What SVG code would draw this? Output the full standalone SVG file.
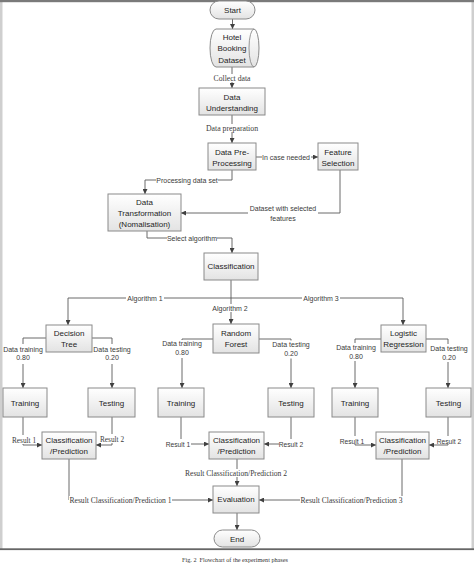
<svg xmlns="http://www.w3.org/2000/svg" width="474" height="563" viewBox="0 0 474 563">
<defs>
<linearGradient id="g" x1="0" y1="0" x2="0" y2="1"><stop offset="0" stop-color="#ffffff"/><stop offset="1" stop-color="#e3e3e3"/></linearGradient>
<marker id="a" viewBox="0 0 6 6" refX="6" refY="3" markerWidth="5" markerHeight="5" markerUnits="userSpaceOnUse" orient="auto"><path d="M0,0 L6,3 L0,6 Z" fill="#404040"/></marker>
</defs>
<style>
.b{fill:url(#g);stroke:#8a8a8a;stroke-width:1}
.t{font-family:"Liberation Sans",Arial,sans-serif;font-size:8px;fill:#1e1e1e;text-anchor:middle}
.l{font-family:"Liberation Sans",Arial,sans-serif;font-size:7px;fill:#3a3a3a;text-anchor:middle}
.s{font-family:"Liberation Serif","Times New Roman",serif;font-size:7.6px;fill:#3a3a3a;text-anchor:middle}
.c{fill:none;stroke:#5a5a5a;stroke-width:0.9}
.ca{fill:none;stroke:#5a5a5a;stroke-width:0.9;marker-end:url(#a)}
.bg{fill:#ffffff}
</style>
<rect x="0" y="0" width="474" height="563" fill="#ffffff"/>
<g id="frame">
<rect x="0" y="0" width="2.5" height="549" fill="#cfcfcf"/>
<rect x="471.5" y="0" width="2.5" height="549" fill="#cfcfcf"/>
<rect x="0" y="0" width="474" height="2.2" fill="#7a7a7a"/>
<rect x="0" y="548.3" width="474" height="1.8" fill="#666666"/>
</g>
<g id="connectors">
<path class="ca" d="M232.5,19 V29"/>
<path class="ca" d="M232,67 V88"/>
<rect class="bg" x="213" y="74" width="38" height="8"/>
<text class="s" x="232" y="80.5" style="font-size:7.7px">Collect data</text>
<path class="ca" d="M232,115 V143"/>
<rect class="bg" x="205" y="124" width="54" height="8"/>
<text class="s" x="232" y="130.5" style="font-size:7.8px">Data preparation</text>
<path class="ca" d="M256,157 H318"/>
<rect class="bg" x="262" y="153" width="49" height="8"/>
<text class="l" x="286" y="159.5">In case needed</text>
<path class="ca" d="M232,170 V180 H145 V194"/>
<rect class="bg" x="156" y="176" width="62" height="8"/>
<text class="l" x="187" y="182.5">Processing data set</text>
<path class="ca" d="M340,170 V213 H181"/>
<rect class="bg" x="248" y="203" width="70" height="20"/>
<text class="l" x="283" y="210.5">Dataset with selected</text>
<text class="l" x="283" y="220.5">features</text>
<path class="ca" d="M147,231 V238 H232 V253"/>
<rect class="bg" x="167" y="234" width="50" height="8"/>
<text class="l" x="192" y="240.5">Select algorithm</text>
<path class="ca" d="M231,280 V298 H68 V325"/>
<path class="ca" d="M231,298 H403 V325"/>
<path class="ca" d="M231,298 V324"/>
<rect class="bg" x="126" y="294" width="38" height="8"/>
<text class="l" x="145" y="300.5">Algorithm 1</text>
<rect class="bg" x="302" y="294" width="38" height="8"/>
<text class="l" x="321" y="300.5">Algorithm 3</text>
<rect class="bg" x="211" y="304" width="38" height="8"/>
<text class="l" x="230" y="310.5">Algorithm 2</text>
<path class="ca" d="M46,338 H23 V388"/>
<rect class="bg" x="3" y="344" width="41" height="20"/>
<text class="l" x="23" y="351.5">Data training</text>
<text class="l" x="23" y="359.5">0.80</text>
<path class="ca" d="M92,338 H112 V388"/>
<rect class="bg" x="93" y="344" width="38" height="20"/>
<text class="l" x="112" y="351.5">Data testing</text>
<text class="l" x="112" y="359.5">0.20</text>
<path class="ca" d="M213,339 H182 V388"/>
<rect class="bg" x="161" y="340" width="42" height="18"/>
<text class="l" x="182" y="345.5">Data training</text>
<text class="l" x="182" y="354.5">0.80</text>
<path class="ca" d="M259,339 H291 V388"/>
<rect class="bg" x="272" y="340.5" width="38" height="18"/>
<text class="l" x="291" y="346.5">Data testing</text>
<text class="l" x="291" y="355.5">0.20</text>
<path class="ca" d="M381,339 H355 V388"/>
<rect class="bg" x="335" y="343" width="42" height="18"/>
<text class="l" x="356" y="349.5">Data training</text>
<text class="l" x="356" y="358.5">0.80</text>
<path class="ca" d="M426,339 H448 V388"/>
<rect class="bg" x="430" y="344" width="38" height="18"/>
<text class="l" x="449" y="350.5">Data testing</text>
<text class="l" x="449" y="359.5">0.20</text>
<path class="ca" d="M23,417 V445 H42"/>
<rect class="bg" x="11" y="435" width="26" height="9"/>
<text class="s" x="24" y="442.5" style="font-size:7.3px">Result 1</text>
<path class="ca" d="M112,417 V445 H96"/>
<rect class="bg" x="99" y="434" width="26" height="9"/>
<text class="s" x="112" y="441.5" style="font-size:7.3px">Result 2</text>
<path class="ca" d="M181,417 V444 H209"/>
<rect class="bg" x="166" y="439" width="25" height="9"/>
<text class="l" x="178" y="446.5" style="font-size:6.7px">Result 1</text>
<path class="ca" d="M291,417 V444 H264"/>
<rect class="bg" x="279" y="439" width="25" height="9"/>
<text class="l" x="291" y="446.5" style="font-size:6.7px">Result 2</text>
<path class="ca" d="M355,417 V445 H376"/>
<rect class="bg" x="340" y="436" width="25" height="8"/>
<text class="l" x="352" y="443.5" style="font-size:6.7px">Result 1</text>
<path class="ca" d="M448,417 V445 H429"/>
<rect class="bg" x="437" y="436" width="25" height="8"/>
<text class="l" x="449" y="443.5" style="font-size:6.7px">Result 2</text>
<path class="ca" d="M237,459 V486"/>
<rect class="bg" x="184" y="469" width="104" height="8"/>
<text class="s" x="236" y="475.5">Result Classification/Prediction 2</text>
<path class="ca" d="M69,459 V500 H213"/>
<rect class="bg" x="69" y="496" width="103" height="8"/>
<text class="s" x="120.5" y="502.5">Result Classification/Prediction 1</text>
<path class="ca" d="M402,459 V500 H259"/>
<rect class="bg" x="300" y="496" width="103" height="8"/>
<text class="s" x="351.5" y="502.5">Result Classification/Prediction 3</text>
<path class="ca" d="M237,513 V530"/>
</g>
<g id="start"><rect class="b" x="210" y="1" width="45" height="18" rx="9"/><text class="t" x="232.5" y="13">Start</text></g>
<g id="dataset"><path class="b" d="M216,29 H254 A5,19 0 0 1 254,67 H216 A6,19 0 0 1 216,29 Z"/><path class="c" d="M254,29 A5,19 0 0 0 254,67" style="stroke:#8a8a8a"/><text class="t" x="232" y="40">Hotel</text><text class="t" x="232" y="51">Booking</text><text class="t" x="232" y="62.5">Dataset</text></g>
<g id="understanding"><rect class="b" x="199" y="88" width="66" height="27"/><text class="t" x="232" y="99.5">Data</text><text class="t" x="232" y="110.5">Understanding</text></g>
<g id="preprocessing"><rect class="b" x="208" y="143" width="48" height="27"/><text class="t" x="232" y="154.5">Data Pre-</text><text class="t" x="232" y="165.5">Processing</text></g>
<g id="featureselection"><rect class="b" x="318" y="143" width="40" height="27"/><text class="t" x="338" y="154.5">Feature</text><text class="t" x="338" y="165.5">Selection</text></g>
<g id="transformation"><rect class="b" x="108" y="194" width="73" height="37"/><text class="t" x="144.5" y="204.5">Data</text><text class="t" x="144.5" y="215.5">Transformation</text><text class="t" x="144.5" y="226.5">(Nomalisation)</text></g>
<g id="classification"><rect class="b" x="204" y="253" width="54" height="27"/><text class="t" x="231" y="269">Classification</text></g>
<g id="decisiontree"><rect class="b" x="46" y="325" width="46" height="27"/><text class="t" x="69" y="335.5">Decision</text><text class="t" x="69" y="346.5">Tree</text></g>
<g id="randomforest"><rect class="b" x="213" y="324" width="46" height="29"/><text class="t" x="236" y="335.5">Random</text><text class="t" x="236" y="346.5">Forest</text></g>
<g id="logistic"><rect class="b" x="381" y="325" width="45" height="27"/><text class="t" x="403.5" y="335.5">Logistic</text><text class="t" x="403.5" y="346.5">Regression</text></g>
<g id="training1"><rect class="b" x="3" y="388" width="44" height="29"/><text class="t" x="25" y="406">Training</text></g>
<g id="testing1"><rect class="b" x="88" y="388" width="47" height="29"/><text class="t" x="111.5" y="406">Testing</text></g>
<g id="training2"><rect class="b" x="158" y="388" width="46" height="29"/><text class="t" x="181" y="406">Training</text></g>
<g id="testing2"><rect class="b" x="268" y="388" width="46" height="29"/><text class="t" x="291" y="406">Testing</text></g>
<g id="training3"><rect class="b" x="332" y="388" width="46" height="29"/><text class="t" x="355" y="406">Training</text></g>
<g id="testing3"><rect class="b" x="426" y="388" width="45" height="29"/><text class="t" x="448.5" y="406">Testing</text></g>
<g id="cp1"><rect class="b" x="42" y="432" width="54" height="27"/><text class="t" x="69" y="443">Classification</text><text class="t" x="69" y="454">/Prediction</text></g>
<g id="cp2"><rect class="b" x="209" y="432" width="55" height="27"/><text class="t" x="236.5" y="443">Classification</text><text class="t" x="236.5" y="454">/Prediction</text></g>
<g id="cp3"><rect class="b" x="376" y="432" width="53" height="27"/><text class="t" x="402.5" y="443">Classification</text><text class="t" x="402.5" y="454">/Prediction</text></g>
<g id="evaluation"><rect class="b" x="213" y="486" width="46" height="27"/><text class="t" x="236" y="502">Evaluation</text></g>
<g id="end"><rect class="b" x="214" y="530" width="46" height="17" rx="8.5"/><text class="t" x="237" y="541.5">End</text></g>
<text x="235" y="561.5" xml:space="preserve" style="font-family:'Liberation Serif','Times New Roman',serif;font-size:6.2px;fill:#333333;text-anchor:middle">Fig. 2  Flowchart of the experiment phases</text>
</svg>
